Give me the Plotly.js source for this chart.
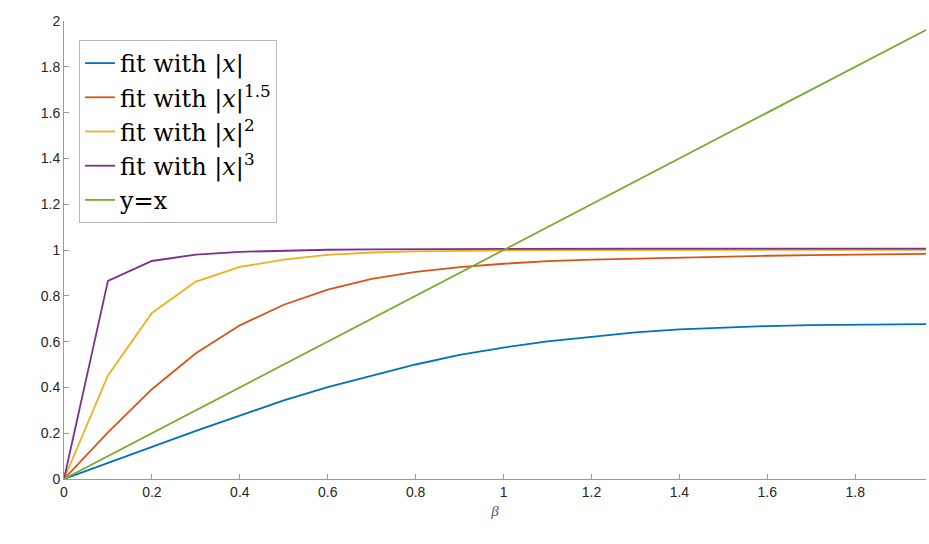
<!DOCTYPE html>
<html>
<head>
<meta charset="utf-8">
<script src="https://cdn.plot.ly/plotly-3.0.1.min.js"></script>
<style>html,body{margin:0;padding:0;background:#fff;}#chart{width:929px;height:544px;}</style>
</head>
<body>
<div id="chart"></div>
<script>
const beta = [0,0.1,0.2,0.3,0.4,0.5,0.6,0.7,0.8,0.9,1.0,1.1,1.2,1.3,1.4,1.5,1.6,1.7,1.8,1.9,2.0];
const fitAbs = [0,0.07,0.141,0.21,0.277,0.343,0.401,0.452,0.500,0.542,0.574,0.601,0.622,0.640,0.653,0.662,0.668,0.672,0.674,0.676,0.677];
const fitAbs15 = [0,0.204,0.392,0.549,0.671,0.761,0.827,0.874,0.904,0.925,0.940,0.951,0.958,0.963,0.968,0.972,0.975,0.978,0.980,0.982,0.984];
const fitAbs2 = [0,0.452,0.725,0.862,0.926,0.958,0.979,0.989,0.994,0.997,0.999,1.000,1.000,1.001,1.001,1.001,1.001,1.001,1.001,1.001,1.001];
const fitAbs3 = [0,0.865,0.952,0.980,0.992,0.998,1.001,1.003,1.004,1.005,1.005,1.006,1.006,1.006,1.006,1.006,1.006,1.006,1.006,1.006,1.006];
const identity = [0,0.1,0.2,0.3,0.4,0.5,0.6,0.7,0.8,0.9,1.0,1.1,1.2,1.3,1.4,1.5,1.6,1.7,1.8,1.9,2.0];
const names = ['fit with |<i>x</i>|','fit with |<i>x</i>|<sup>1.5</sup>','fit with |<i>x</i>|<sup>2</sup>','fit with |<i>x</i>|<sup>3</sup>','y=x'];
const xTicks = [0,0.2,0.4,0.6,0.8,1,1.2,1.4,1.6,1.8];
const yTicks = [0,0.2,0.4,0.6,0.8,1,1.2,1.4,1.6,1.8,2];

const colors = ['#0072BD','#D95319','#EDB120','#7E2F8E','#77AC30'];
const series = [fitAbs, fitAbs15, fitAbs2, fitAbs3, identity];
const traces = series.map((ys,i)=>({
  x: beta, y: ys, type:'scatter', mode:'lines', name: names[i],
  line:{color:colors[i], width:1.8}
}));

const axisCommon = {
  showline:true, linecolor:'#9a9a9a', linewidth:1,
  ticks:'inside', ticklen:5, tickcolor:'#9a9a9a',
  showgrid:false, zeroline:false,
  tickfont:{family:'Liberation Sans, Arial, sans-serif', size:14, color:'#262626'}
};

const layout = {
  width:929, height:544,
  margin:{l:64, r:3, t:21, b:65},
  paper_bgcolor:'#fff', plot_bgcolor:'#fff',
  showlegend:true,
  legend:{
    x:0.0174, y:0.9585, xanchor:'left', yanchor:'top',
    bgcolor:'#fff', bordercolor:'#b8b8b8', borderwidth:1,
    font:{family:'DejaVu Serif, Liberation Serif, serif', size:24, color:'#000'},
    itemwidth:30, tracegroupgap:0
  },
  xaxis: Object.assign({}, axisCommon, {
    range:[0,1.961], tickvals:xTicks, ticktext:xTicks.map(String),
    title:{text:'<i>β</i>', font:{family:'Liberation Serif, DejaVu Serif, serif', size:15, color:'#555'}, standoff:6}
  }),
  yaxis: Object.assign({}, axisCommon, {
    range:[0,2], tickvals:yTicks, ticktext:yTicks.map(String)
  })
};

Plotly.newPlot('chart', traces, layout, {displayModeBar:false, staticPlot:true});
</script>
</body>
</html>
